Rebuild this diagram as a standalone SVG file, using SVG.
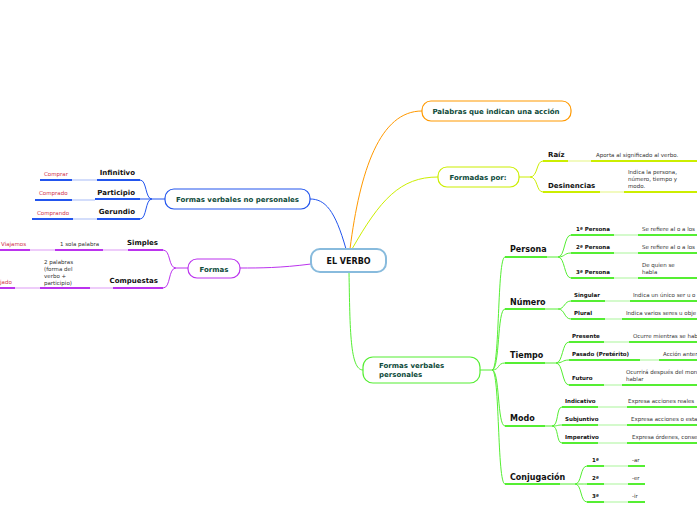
<svg xmlns="http://www.w3.org/2000/svg" width="697" height="520" viewBox="0 0 697 520">
<style>
text{font-family:"DejaVu Sans",Verdana,sans-serif}
.b{font-size:7px;font-weight:bold;fill:#111}
.bs{font-size:5.5px;font-weight:bold;fill:#111}
.h{font-size:8px;font-weight:bold;fill:#111}
.s{font-size:5.5px;fill:#333}
.r{font-size:5.5px;fill:#d0304a}
.t{font-size:7px;font-weight:bold;fill:#0d4a3a}
.c{fill:none;stroke-width:1}
.bl{stroke:#2255ee}.pu{stroke:#bb33ee}.ye{stroke:#ccee00}.gr{stroke:#55ee33}.or{stroke:#ff9900}
.u{fill:none;stroke-width:2}
</style>
<g id="connectors">
<path class="c or" d="M350 249 C360 170 380 111 422 111" stroke-width="1.5"/>
<path class="c ye" d="M352 249 C380 200 400 177 438 177" stroke-width="1.5"/>
<path class="c gr" d="M349 272 C350 330 350 370 363 370" stroke-width="1.5"/>
<path class="c bl" d="M346 249 C335 210 325 199 310 199" stroke-width="1.5"/>
<path class="c pu" d="M311 264 C280 268 260 268 240 268" stroke-width="1.5"/>
<path class="c bl" d="M165 199 H152 C145 199 147 180 140 180 M152 199 H140 M152 199 C145 199 147 219 140 219"/>
<path class="u bl" d="M97 180H140M95 199H140M97 219H140"/><path class="u bl" d="M40 180H72M35 200H72M32 219H73"/>
<path class="c bl" d="M72 180H97M72 200H95M73 219H97" stroke-opacity=".4"/>
<path class="c pu" d="M188 268 H176 C168 268 171 250 163 250 M176 268 C168 268 171 288 163 288"/>
<path class="u pu" d="M128 250H163M55 250H103M0 250H30M113 288H163M40 288H90M0 288H15"/>
<path class="c pu" d="M103 250H128M30 250H55M90 288H113M15 288H40" stroke-opacity=".5"/>
<path class="c ye" d="M519 177 H530 C538 177 536 161 543 161 M530 177 C538 177 536 192 543 192"/>
<path class="u ye" d="M543 161H568M591 161H697M543 192H600M624 192H697"/>
<path class="c ye" d="M568 161H591M600 192H624" stroke-opacity=".5"/>
<path class="c gr" d="M480 370 H492 M492 370 C500 370 497 257 505 257 M492 370 C500 370 497 309 505 309 M492 370 C500 370 497 363 505 363 M492 370 C500 370 497 426 505 426 M492 370 C500 370 497 484 505 484"/>
<path class="u gr" d="M505 257H547M505 309H545M505 363H545M505 426H545M505 484H560"/>
<path class="c gr" d="M547 257H558 C565 257 564 235 571 235 M558 257 C565 257 564 253 571 253 M558 257 C565 257 564 278 571 278"/>
<path class="c gr" d="M545 309H558 C565 309 564 301 571 301 M558 309 C565 309 564 319 571 319"/>
<path class="c gr" d="M545 363H556 C563 363 562 342 569 342 M556 363 C563 363 562 360 569 360 M556 363 C563 363 562 385 569 385"/>
<path class="c gr" d="M545 426H552 C559 426 556 407 562 407 M552 426 C559 426 556 425 562 425 M552 426 C559 426 556 443 562 443"/>
<path class="c gr" d="M560 484H575 C582 484 580 466 587 466 M575 484 C582 484 580 484 587 484 M575 484 C582 484 580 502 587 502"/>
<path class="u gr" d="M571 235H614M638 235H697M571 253H614M638 253H697M571 278H614M638 278H697M571 301H605M630 301H697M571 319H605M622 319H697M569 342H604M629 342H697M569 360H640M659 360H697M569 385H604M622 385H697M562 407H598M627 407H697M562 425H598M627 425H697M562 443H598M627 443H697M587 466H604M628 466H645M587 484H604M628 484H645M587 502H604M628 502H645"/>
<path class="c gr" d="M614 235H638M614 253H638M614 278H638M605 301H630M605 319H622M604 342H629M640 360H659M604 385H622M598 407H627M598 425H627M598 443H627M604 466H628M604 484H628M604 502H628" stroke-opacity=".5"/>
</g>
<g id="center"><rect x="311" y="249" width="75" height="23" rx="9" fill="#fff" stroke="#88bbdd" stroke-width="2"/><text x="348.5" y="264" text-anchor="middle" class="h">EL VERBO</text></g>
<g id="palabras"><rect x="422" y="101" width="149" height="20" rx="9" fill="#fff" stroke="#ff9900" stroke-width="1.2"/><text x="496" y="114" text-anchor="middle" class="t">Palabras que indican una acción</text></g>
<g id="formadas"><rect x="438" y="167" width="81" height="20" rx="9" fill="#fff" stroke="#ccee00" stroke-width="1.2"/><text x="478" y="180" text-anchor="middle" class="t">Formadas por:</text></g>
<g id="personales"><rect x="363" y="357" width="117" height="26" rx="10" fill="#fff" stroke="#55ee33" stroke-width="1.2"/><text x="379" y="368" class="t">Formas verbales</text><text x="379" y="377" class="t">personales</text></g>
<g id="nopersonales"><rect x="165" y="189" width="145" height="20" rx="9" fill="#fff" stroke="#2255ee" stroke-width="1.2"/><text x="237.5" y="202" text-anchor="middle" class="t">Formas verbales no personales</text></g>
<g id="formas"><rect x="188" y="259" width="52" height="19" rx="9" fill="#fff" stroke="#bb33ee" stroke-width="1.2"/><text x="214" y="272" text-anchor="middle" class="t">Formas</text></g>
<g id="left-texts">
<text x="135" y="175" text-anchor="end" class="b">Infinitivo</text><text x="44" y="176" class="r">Comprar</text>
<text x="135" y="195" text-anchor="end" class="b">Participio</text><text x="39" y="195" class="r">Comprado</text>
<text x="135" y="214" text-anchor="end" class="b">Gerundio</text><text x="37" y="215" class="r">Comprando</text>
<text x="158" y="245" text-anchor="end" class="b">Simples</text><text x="60" y="246" class="s">1 sola palabra</text><text x="1" y="246" class="r">Viajamos</text>
<text x="158" y="283" text-anchor="end" class="b">Compuestas</text>
<text x="44" y="264" class="s">2 palabras</text><text x="44" y="271" class="s">(forma del</text><text x="44" y="278" class="s">verbo +</text><text x="44" y="285" class="s">participio)</text>
<text x="0" y="284" class="r">jado</text>
</g>
<g id="right-texts">
<text x="548" y="157" class="b">Raíz</text><text x="596" y="157" class="s">Aporta al significado al verbo.</text>
<text x="548" y="188" class="b">Desinencias</text><text x="628" y="174" class="s">Indica la persona,</text><text x="628" y="181" class="s">número, tiempo y</text><text x="628" y="188" class="s">modo.</text>
<text x="510" y="252" class="h">Persona</text><text x="510" y="305" class="h">Número</text><text x="510" y="358" class="h">Tiempo</text><text x="510" y="421" class="h">Modo</text><text x="510" y="480" class="h">Conjugación</text>
<text x="576" y="231" class="bs">1ª Persona</text><text x="642" y="231" class="s">Se refiere al o a los</text>
<text x="576" y="249" class="bs">2ª Persona</text><text x="642" y="249" class="s">Se refiere al o a los</text>
<text x="576" y="274" class="bs">3ª Persona</text><text x="642" y="267" class="s">De quien se</text><text x="642" y="274" class="s">habla</text>
<text x="574" y="297" class="bs">Singular</text><text x="633" y="297" class="s">Indica un único ser u o</text>
<text x="574" y="315" class="bs">Plural</text><text x="626" y="315" class="s">Indica varios seres u obje</text>
<text x="572" y="338" class="bs">Presente</text><text x="633" y="338" class="s">Ocurre mientras se hab</text>
<text x="572" y="356" class="bs">Pasado (Pretérito)</text><text x="663" y="356" class="s">Acción anter</text>
<text x="572" y="380" class="bs">Futuro</text><text x="626" y="374" class="s">Ocurrirá después del mon</text><text x="626" y="381" class="s">hablar</text>
<text x="565" y="403" class="bs">Indicativo</text><text x="628" y="403" class="s">Expresa acciones reales</text>
<text x="565" y="421" class="bs">Subjuntivo</text><text x="631" y="421" class="s">Expresa acciones o esta</text>
<text x="565" y="439" class="bs">Imperativo</text><text x="632" y="439" class="s">Expresa órdenes, conse</text>
<text x="592" y="462" class="bs">1ª</text><text x="632" y="462" class="s">-ar</text>
<text x="592" y="480" class="bs">2ª</text><text x="632" y="480" class="s">-er</text>
<text x="592" y="498" class="bs">3ª</text><text x="632" y="498" class="s">-ir</text>
</g>
</svg>
